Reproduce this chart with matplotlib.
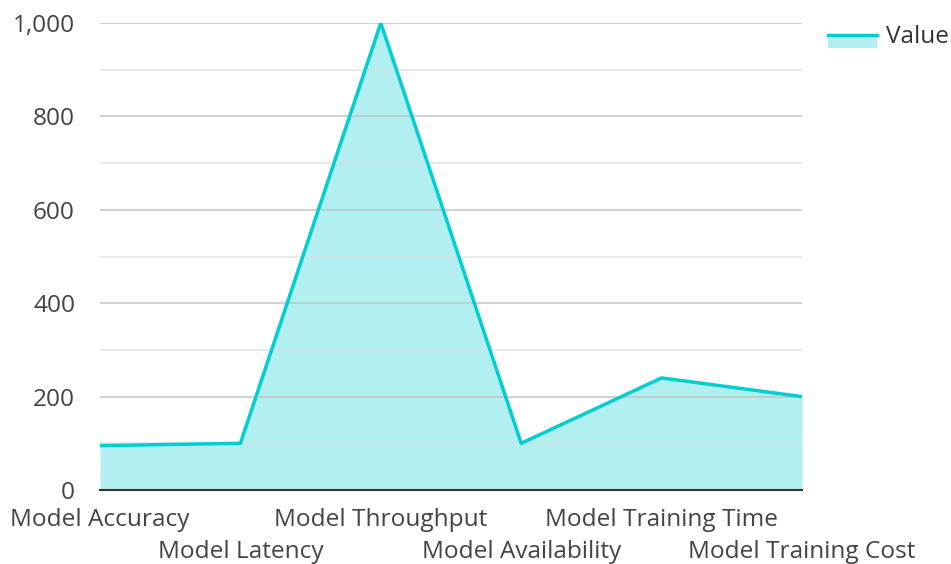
import matplotlib.pyplot as plt
from matplotlib.patches import Rectangle
from matplotlib.lines import Line2D

plt.rcParams['font.family'] = ['Open Sans', 'DejaVu Sans']

categories = ['Model Accuracy', 'Model Latency', 'Model Throughput',
              'Model Availability', 'Model Training Time', 'Model Training Cost']
values = [95, 100, 1000, 100, 240, 200]
series_name = 'Value'

line_color = '#00CED1'
fill_color = '#b2eff0'
text_color = '#444444'
fsize = 17.6

fig = plt.figure(figsize=(9.51, 5.64), dpi=100)
ax = fig.add_axes([100 / 951, 1 - 490 / 564, 702 / 951, 467 / 564])

x = list(range(len(categories)))
ax.fill_between(x, 0, values, color=fill_color, linewidth=0, zorder=1)
ax.plot(x, values, color=line_color, linewidth=2.5, zorder=3)

ax.set_xlim(0, len(categories) - 1)
ax.set_ylim(0, 1000)
ax.set_yticks(range(0, 1001, 200))
ax.set_yticklabels([f'{v:,}' for v in range(0, 1001, 200)])
ax.set_yticks(range(100, 1000, 200), minor=True)
ax.grid(True, which='major', axis='y', color='#bfbfbf', linewidth=1.2, alpha=0.85, zorder=2)
ax.grid(True, which='minor', axis='y', color='#dcdcdc', linewidth=1.2, alpha=0.7, zorder=2)
ax.set_axisbelow(False)

ax.set_xticks(x)
ax.set_xticklabels(categories)
for i, t in enumerate(ax.xaxis.get_major_ticks()):
    t.set_pad(13 if i % 2 == 0 else 36)

ax.tick_params(axis='both', which='both', length=0, labelsize=fsize, labelcolor=text_color)
ax.tick_params(axis='y', pad=18)

for s in ['top', 'right', 'left']:
    ax.spines[s].set_visible(False)
ax.spines['bottom'].set_color('#333333')
ax.spines['bottom'].set_linewidth(1.5)
ax.spines['bottom'].set_zorder(4)

# legend swatch
fig.patches.append(Rectangle((828 / 951, 1 - 48 / 564), 49 / 951, 14 / 564,
                             transform=fig.transFigure, facecolor=fill_color,
                             edgecolor='none'))
fig.lines.append(Line2D([828 / 951, 877 / 951], [1 - 35 / 564, 1 - 35 / 564],
                        transform=fig.transFigure, color=line_color, linewidth=2.5))
fig.text(886 / 951, 1 - 37 / 564, series_name, fontsize=fsize, color='#333333',
         va='center', ha='left')

fig.savefig('out.png', dpi=100)
